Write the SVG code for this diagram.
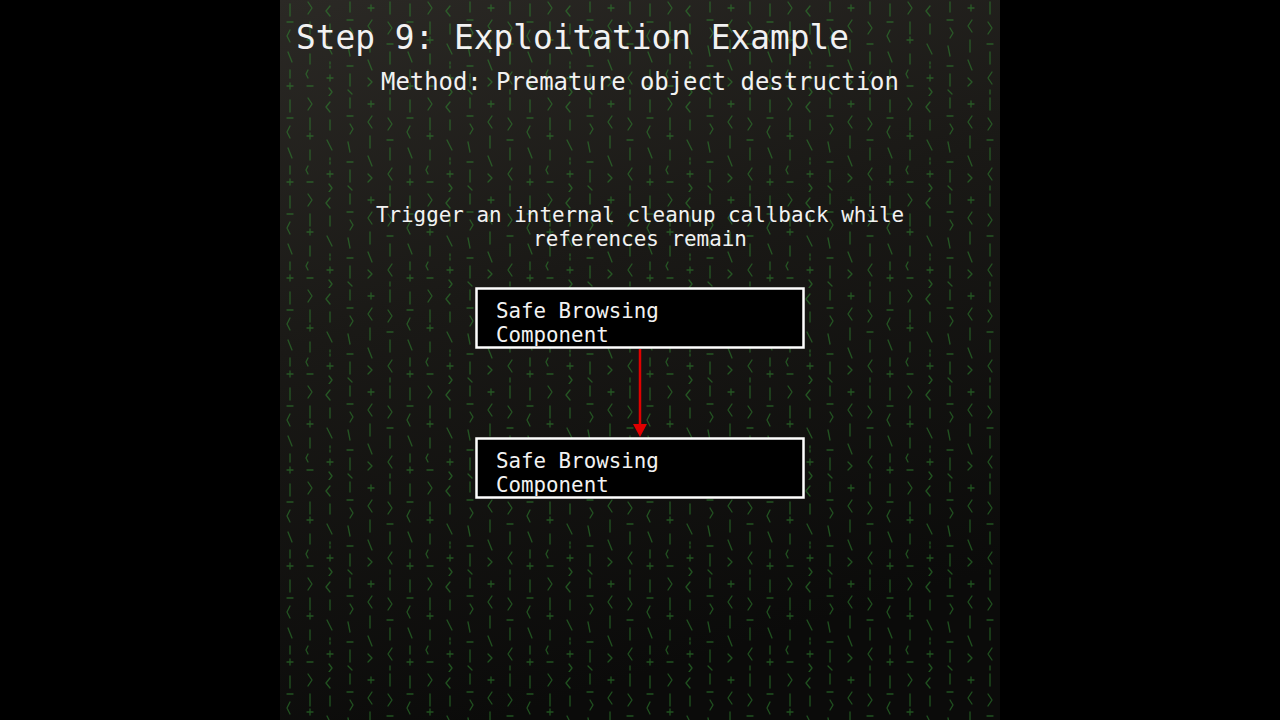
<svg xmlns="http://www.w3.org/2000/svg" width="1280" height="720" viewBox="0 0 1280 720">
<style>
.t{font-family:"DejaVu Sans Mono","Liberation Mono",monospace;fill:#f2f2f2}
.box{fill:#000;stroke:#fff;stroke-width:2.5}
.lbl{font-family:"DejaVu Sans Mono","Liberation Mono",monospace;font-size:20.8px;fill:#f2f2f2}
.g{stroke:#2f8a2f;stroke-width:1.3;fill:none;stroke-linecap:round;stroke-linejoin:round}
</style>
<defs>
<linearGradient id="bg" x1="0" y1="0" x2="0.3" y2="1">
<stop offset="0" stop-color="#2b2925"/>
<stop offset="0.45" stop-color="#1a1916"/>
<stop offset="1" stop-color="#0b0b0a"/>
</linearGradient>
<pattern id="rain" x="284" y="0" width="120" height="96" patternUnits="userSpaceOnUse">
<g class="g">
<path d="M6 4v12M3 22h6M6 30l-3 6l3 6M4 52l4 10M6 70v8M3 86h6M6 83v6"/>
<path d="M24 2l4 6l-4 6M26 22v12M23 40h6M26 37v6M26 54v10M24 70l-2 4l2 4M23 86h6"/>
<path d="M46 6l-4 5l4 5M46 24v10M43 44l5 10M46 62v2M46 66v2M43 78h6M46 75v6M45 88l3 4l-3 4"/>
<path d="M66 2v10M63 20h6M66 28l3 5l-3 5M64 46l2 10M63 66h6M66 74v12M64 90l4 4"/>
<path d="M84 8h6M87 5v6M88 20l-4 6l4 6M86 40v12M84 60l4 10M84 78l4 4l-4 4"/>
<path d="M106 2v12M104 22l4 6l-4 6M103 44h6M106 52v12M108 72l-4 6l4 6M106 90v4"/>
</g>
</pattern>
</defs>
<rect width="1280" height="720" fill="#000"/>
<rect x="280" y="0" width="720" height="720" fill="url(#bg)"/>
<rect x="280" y="0" width="720" height="720" fill="url(#rain)" opacity="0.55"/>
<g id="title">
<text class="t" x="296" y="49" font-size="32.8">Step 9: Exploitation Example</text>
<text class="t" x="381" y="90" font-size="23.9">Method: Premature object destruction</text>
</g>
<g id="caption">
<text class="t" x="640" y="222" font-size="20.9" text-anchor="middle">Trigger an internal cleanup callback while</text>
<text class="t" x="640" y="246" font-size="20.9" text-anchor="middle">references remain</text>
</g>
<g id="connectors">
<line x1="640" y1="349" x2="640" y2="426" stroke="#e00000" stroke-width="2.5"/>
<polygon points="633,424 647,424 640,437" fill="#e00000"/>
</g>
<g id="node1">
<rect class="box" x="476.5" y="288.5" width="327" height="59"/>
<text class="lbl" x="496" y="318">Safe Browsing</text>
<text class="lbl" x="496" y="342">Component</text>
</g>
<g id="node2">
<rect class="box" x="476.5" y="438.5" width="327" height="59"/>
<text class="lbl" x="496" y="468">Safe Browsing</text>
<text class="lbl" x="496" y="492">Component</text>
</g>
</svg>
